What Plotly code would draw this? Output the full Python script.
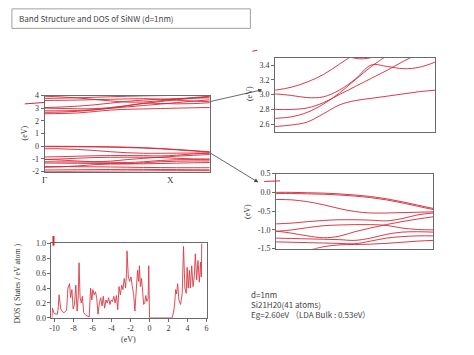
import plotly.graph_objects as go

W, H = 474, 355

# ---------------- data ----------------
k_points = [0.0, 0.1, 0.2, 0.3, 0.4, 0.5, 0.6, 0.7, 0.8, 0.9, 1.0]

cond_c1 = [2.57, 2.59, 2.63, 2.74, 2.86, 2.92, 2.95, 2.98, 3.01, 3.04, 3.06]
cond_c2 = [2.68, 2.70, 2.76, 2.87, 3.02, 3.20, 3.38, 3.53, 3.68, 3.80, 3.90]
cond_c3 = [2.80, 2.80, 2.82, 2.89, 3.00, 3.11, 3.22, 3.33, 3.45, 3.56, 3.67]
cond_c4 = [3.01, 2.99, 2.96, 2.97, 3.06, 3.21, 3.40, 3.38, 3.35, 3.37, 3.44]
cond_c5 = [3.06, 3.10, 3.17, 3.27, 3.41, 3.55, 3.65, 3.72, 3.77, 3.80, 3.82]
cond_c6 = [3.95, 3.90, 3.82, 3.70, 3.58, 3.49, 3.50, 3.60, 3.72, 3.85, 3.95]
cond_c7 = [3.62, 3.63, 3.65, 3.68, 3.71, 3.74, 3.76, 3.72, 3.64, 3.57, 3.52]
cond_c8 = [3.78, 3.80, 3.83, 3.87, 3.91, 3.95, 3.98, 4.00, 4.02, 4.03, 4.04]

val_v1 = [0.00, 0.00, -0.01, -0.02, -0.04, -0.07, -0.11, -0.17, -0.25, -0.34, -0.43]
val_v2 = [-0.03, -0.03, -0.04, -0.05, -0.07, -0.10, -0.14, -0.20, -0.28, -0.37, -0.46]
val_v3 = [-0.19, -0.20, -0.25, -0.33, -0.43, -0.51, -0.55, -0.55, -0.54, -0.53, -0.52]
val_v4 = [-0.84, -0.82, -0.78, -0.75, -0.73, -0.73, -0.74, -0.76, -0.70, -0.60, -0.55]
val_v5 = [-1.04, -1.00, -0.94, -0.89, -0.87, -0.86, -0.86, -0.88, -0.95, -0.99, -1.00]
val_v6 = [-1.03, -1.09, -1.16, -1.21, -1.17, -1.05, -0.95, -0.86, -0.78, -0.71, -0.65]
val_v7 = [-1.22, -1.23, -1.24, -1.25, -1.26, -1.28, -1.22, -1.12, -1.06, -1.05, -1.06]
val_v8 = [-1.32, -1.33, -1.34, -1.35, -1.36, -1.37, -1.30, -1.22, -1.18, -1.16, -1.16]
val_v9 = [-1.65, -1.62, -1.55, -1.45, -1.40, -1.39, -1.38, -1.36, -1.33, -1.30, -1.28]
val_v10 = [-1.60, -1.60, -1.61, -1.62, -1.63, -1.65, -1.67, -1.68, -1.69, -1.69, -1.69]
val_v11 = [-1.87, -1.86, -1.85, -1.84, -1.83, -1.82, -1.82, -1.83, -1.84, -1.85, -1.86]
val_v12 = [-2.00, -1.99, -1.98, -1.97, -1.96, -1.95, -1.94, -1.93, -1.93, -1.93, -1.93]

bands = [cond_c1, cond_c2, cond_c3, cond_c4, cond_c5, cond_c6, cond_c7, cond_c8,
         val_v1, val_v2, val_v3, val_v4, val_v5, val_v6, val_v7, val_v8,
         val_v9, val_v10, val_v11, val_v12]

k_tick_vals = [0.0, 0.76]
k_tick_text = ["Γ", "X"]

dos_energy = [-10.32, -10.28, -10.22, -10.12, -10.04, -9.85, -9.69, -9.60, -9.52, -9.35,
              -9.15, -9.0, -8.80, -8.73, -8.59, -8.42, -8.31, -8.17, -8.04, -7.90,
              -7.76, -7.62, -7.50, -7.42, -7.31, -7.18, -7.07, -6.93, -6.75, -6.59,
              -6.35, -6.28, -6.21, -6.07, -5.97, -5.83, -5.69, -5.56, -5.42, -5.28,
              -5.14, -5.0, -4.87, -4.73, -4.59, -4.45, -4.31, -4.17, -4.04, -3.90,
              -3.76, -3.62, -3.48, -3.35, -3.21, -3.07, -2.93, -2.80, -2.66, -2.52,
              -2.42, -2.37, -2.30, -2.23, -2.09, -1.95, -1.81, -1.67, -1.54, -1.40,
              -1.26, -1.15, -1.06, -0.96, -0.85, -0.75, -0.62, -0.50, -0.40, -0.28,
              -0.15, -0.08, -0.02, 0.0, 2.40, 2.50, 2.58, 2.66, 2.75, 2.85,
              2.96, 3.09, 3.27, 3.44, 3.58, 3.72, 3.86, 3.96, 4.07, 4.20,
              4.30, 4.44, 4.58, 4.72, 4.82, 4.96, 5.10, 5.24, 5.38, 5.45, 5.50]
dos_value = [0.0, 0.0, 0.13, 0.07, 0.06, 0.05, 0.05, 0.15, 0.31, 0.12,
             0.08, 0.07, 0.09, 0.10, 0.40, 0.46, 0.27, 0.38, 0.12, 0.18,
             0.44, 0.09, 0.30, 0.74, 0.27, 0.20, 0.29, 0.07, 0.04, 0.03,
             0.01, 0.20, 0.40, 0.24, 0.38, 0.31, 0.35, 0.27, 0.05, 0.20,
             0.27, 0.16, 0.29, 0.13, 0.24, 0.20, 0.27, 0.18, 0.24, 0.22,
             0.29, 0.20, 0.30, 0.11, 0.42, 0.31, 0.44, 0.38, 0.53, 0.40,
             0.60, 0.90, 0.62, 0.55, 0.49, 0.55, 0.42, 0.31, 0.09, 0.44,
             0.64, 0.49, 0.70, 0.42, 0.53, 0.40, 0.18, 0.20, 0.30, 0.22,
             0.26, 0.70, 0.30, 0.0, 0.0, 0.05, 0.12, 0.22, 0.38, 0.32,
             0.46, 0.24, 0.18, 0.33, 0.96, 0.40, 0.33, 0.68, 0.40, 0.64,
             0.40, 0.70, 0.42, 0.57, 0.86, 0.51, 0.77, 0.48, 0.75, 0.55, 1.05]

main_y_ticks = [-2, -1, 0, 1, 2, 3, 4]
up_y_ticks = [2.6, 2.8, 3.0, 3.2, 3.4]
low_y_ticks = [-1.5, -1.0, -0.5, 0.0, 0.5]
dos_x_ticks = [-10, -8, -6, -4, -2, 0, 2, 4, 6]
dos_y_ticks = [0.0, 0.2, 0.4, 0.6, 0.8, 1.0]

title_text = "Band Structure and DOS of SiNW (d=1nm)"
note_lines = ["d=1nm", "Si21H20(41 atoms)", "Eg=2.60eV （LDA Bulk : 0.53eV）"]

# ---------------- style ----------------
RED = "#d42634"
DOSRED = "#d93a44"
AX = "#6a6a6a"
SERIF = "Liberation Serif"
SANS = "Noto Sans CJK JP"


def fmt(v, nd):
    return f"{v:.{nd}f}"


def px_x(p):
    return p / W


def px_y(p):
    return 1 - p / H


fig = go.Figure()

for axis_id in ["", "2", "3"]:
    for b in bands:
        fig.add_trace(go.Scatter(
            x=k_points, y=b, mode="lines",
            line=dict(color=RED, width=0.9, shape="spline", smoothing=1.0),
            xaxis="x" + axis_id, yaxis="y" + axis_id,
            showlegend=False, hoverinfo="skip"))

fig.add_trace(go.Scatter(
    x=dos_energy, y=dos_value, mode="lines",
    line=dict(color=DOSRED, width=0.9),
    xaxis="x4", yaxis="y4", showlegend=False, hoverinfo="skip"))

base_axis = dict(showline=True, linecolor=AX, linewidth=1, mirror=True,
                 showgrid=False, zeroline=False,
                 tickfont=dict(family=SERIF, size=8, color="#333"),
                 ticks="outside", ticklen=3, tickcolor=AX, tickwidth=1)

layout_axes = dict(
    xaxis=dict(base_axis, domain=[px_x(42), px_x(209)], range=[0, 1],
               tickvals=k_tick_vals, ticktext=k_tick_text, ticks="",
               tickfont=dict(family=SERIF, size=9, color="#333"),
               anchor="y"),
    yaxis=dict(base_axis, domain=[px_y(172), px_y(94)], range=[-2, 4],
               tickvals=main_y_ticks, ticktext=[str(v) for v in main_y_ticks],
               anchor="x"),
    xaxis2=dict(base_axis, domain=[px_x(275), px_x(437)], range=[0, 1],
                showticklabels=False, ticks="", anchor="y2"),
    yaxis2=dict(base_axis, domain=[px_y(131), px_y(55)], range=[2.5, 3.5],
                tickvals=up_y_ticks, ticktext=[fmt(v, 1) for v in up_y_ticks],
                anchor="x2"),
    xaxis3=dict(base_axis, domain=[px_x(276), px_x(435)], range=[0, 1],
                showticklabels=False, ticks="", anchor="y3"),
    yaxis3=dict(base_axis, domain=[px_y(251), px_y(174)], range=[-1.5, 0.5],
                tickvals=low_y_ticks, ticktext=[fmt(v, 1) for v in low_y_ticks],
                anchor="x3"),
    xaxis4=dict(base_axis, domain=[px_x(49), px_x(205.7)], range=[-10.32, 6.0],
                tickvals=dos_x_ticks, ticktext=[str(v) for v in dos_x_ticks],
                anchor="y4"),
    yaxis4=dict(base_axis, domain=[px_y(322), px_y(245.7)], range=[0, 1.0],
                tickvals=dos_y_ticks, ticktext=[fmt(v, 1) for v in dos_y_ticks],
                anchor="x4"),
)

rot_font = dict(family=SERIF, size=8, color="#333")
annotations = [
    dict(text=title_text, x=px_x(14), y=px_y(15), xref="paper", yref="paper",
         xanchor="left", yanchor="middle", showarrow=False,
         font=dict(family=SANS, size=8, color="#444")),
    dict(text="(eV)", x=px_x(22), y=px_y(132), xref="paper", yref="paper",
         xanchor="center", yanchor="middle",
         textangle=-90, showarrow=False, font=rot_font),
    dict(text="(eV)", x=px_x(249), y=px_y(92), xref="paper", yref="paper",
         xanchor="center", yanchor="middle",
         textangle=-90, showarrow=False, font=rot_font),
    dict(text="(eV)", x=px_x(247), y=px_y(213), xref="paper", yref="paper",
         xanchor="center", yanchor="middle",
         textangle=-90, showarrow=False, font=rot_font),
    dict(text="DOS ( States / eV atom )", x=px_x(15), y=px_y(287), xref="paper", yref="paper",
         xanchor="center", yanchor="middle",
         textangle=-90, showarrow=False, font=rot_font),
    dict(text="(eV)", x=px_x(127), y=px_y(344), xref="paper", yref="paper",
         xanchor="center", yanchor="middle",
         showarrow=False, font=rot_font),
    # arrows
    dict(x=px_x(262), y=px_y(88), xref="paper", yref="paper", ax=-53, ay=12,
         showarrow=True, arrowhead=2, arrowsize=1, arrowwidth=0.8, arrowcolor="#444", text=""),
    dict(x=px_x(258), y=px_y(183), xref="paper", yref="paper", ax=-49, ay=-30,
         showarrow=True, arrowhead=2, arrowsize=1, arrowwidth=0.8, arrowcolor="#444", text=""),
]
for i, line in enumerate(note_lines):
    annotations.append(dict(text=line, x=px_x(249), y=px_y(298 + 10.5 * i),
                            xref="paper", yref="paper", xanchor="left", yanchor="middle",
                            showarrow=False, font=dict(family=SANS, size=8, color="#444")))

shapes = [
    dict(type="rect", xref="paper", yref="paper", x0=px_x(9), x1=px_x(250),
         y0=px_y(25), y1=px_y(5), line=dict(color="#a0a0a0", width=1)),
    dict(type="line", xref="paper", yref="paper", x0=px_x(22), x1=px_x(42),
         y0=px_y(102.5), y1=px_y(101), line=dict(color=RED, width=1)),
    dict(type="line", xref="paper", yref="paper", x0=px_x(252), x1=px_x(257),
         y0=px_y(48.5), y1=px_y(47.5), line=dict(color=RED, width=1)),
    dict(type="line", xref="paper", yref="paper", x0=px_x(264), x1=px_x(280),
         y0=px_y(182), y1=px_y(181.5), line=dict(color=RED, width=1)),
    dict(type="line", xref="paper", yref="paper", x0=px_x(51), x1=px_x(51),
         y0=px_y(248), y1=px_y(238), line=dict(color=RED, width=2)),
]

fig.update_layout(
    width=W, height=H, autosize=False,
    margin=dict(l=0, r=0, t=0, b=0),
    paper_bgcolor="white", plot_bgcolor="white",
    annotations=annotations, shapes=shapes,
    **layout_axes,
)

fig.write_html("out.html", config={"displayModeBar": False},
               post_script="document.body.style.margin='0';document.body.style.padding='0';")
